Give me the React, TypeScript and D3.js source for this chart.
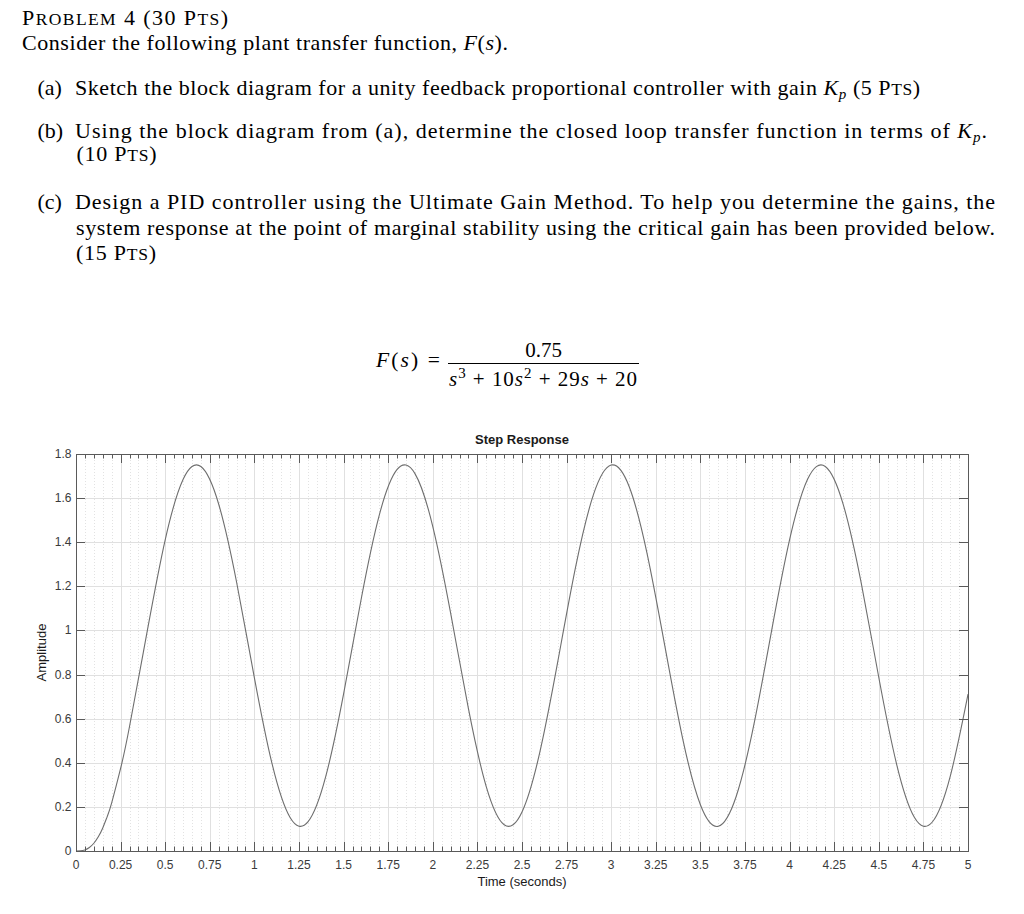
import React from 'react';
import * as d3 from 'd3';

// Step response samples
const TIME = [
  0, 0.025, 0.05, 0.075, 0.1, 0.125, 0.15, 0.175, 0.2, 0.25, 0.3,
  0.4, 0.5, 0.6, 0.7, 0.8, 0.9, 1.0, 1.1, 1.2, 1.3, 1.4, 1.5, 1.6, 1.7, 1.8, 1.9,
  2.0, 2.1, 2.2, 2.3, 2.4, 2.5, 2.6, 2.7, 2.8, 2.9, 3.0, 3.1, 3.2, 3.3, 3.4, 3.5,
  3.6, 3.7, 3.8, 3.9, 4.0, 4.1, 4.2, 4.3, 4.4, 4.5, 4.6, 4.7, 4.8, 4.9, 5.0,
];
const AMPLITUDE = [
  0, 0.0007, 0.005, 0.0158, 0.0351, 0.0644, 0.1046, 0.1559, 0.2183, 0.3742, 0.5645,
  1.0002, 1.411, 1.6841, 1.7433, 1.5723, 1.2197, 0.7854, 0.3923, 0.1517, 0.1317, 0.3379,
  0.7121, 1.1482, 1.5229, 1.73, 1.711, 1.4712, 1.0785, 0.6441, 0.2909, 0.1189, 0.1768,
  0.4482, 0.8562, 1.2855, 1.6144, 1.7499, 1.6536, 1.3528, 0.9326, 0.5119, 0.2099, 0.112,
  0.246, 0.5738, 1.0028, 1.4114, 1.6841, 1.7436, 1.5731, 1.2209, 0.7866, 0.3932, 0.152,
  0.1314, 0.3371, 0.7109,
];

const X_TICKS = [0, 0.25, 0.5, 0.75, 1, 1.25, 1.5, 1.75, 2, 2.25, 2.5, 2.75, 3, 3.25, 3.5, 3.75, 4, 4.25, 4.5, 4.75, 5];
const X_TICK_LABELS = ['0', '0.25', '0.5', '0.75', '1', '1.25', '1.5', '1.75', '2', '2.25', '2.5', '2.75', '3', '3.25', '3.5', '3.75', '4', '4.25', '4.5', '4.75', '5'];
const Y_TICKS = [0, 0.2, 0.4, 0.6, 0.8, 1, 1.2, 1.4, 1.6, 1.8];
const Y_TICK_LABELS = ['0', '0.2', '0.4', '0.6', '0.8', '1', '1.2', '1.4', '1.6', '1.8'];

const CHART_TITLE = 'Step Response';
const X_LABEL = 'Time (seconds)';
const Y_LABEL = 'Amplitude';

const serif = '"Liberation Serif", "Times New Roman", serif';
const sans = '"Liberation Sans", Arial, Helvetica, sans-serif';

export default function App() {
  const L = 76, R = 968, T = 454, B = 851;
  const x = d3.scaleLinear().domain([0, 5]).range([L, R]);
  const y = d3.scaleLinear().domain([0, 1.8]).range([B, T]);
  const px = (v: number) => Math.round(x(v)) + 0.5;
  const py = (v: number) => Math.round(y(v)) + 0.5;

  const pts: [number, number][] = TIME.map((t, i) => [t, AMPLITUDE[i]]);
  const line = d3.line<[number, number]>()
    .x(d => x(d[0]))
    .y(d => y(d[1]))
    .curve(d3.curveNatural);

  const minor = x.ticks(100).filter(v => !X_TICKS.some(m => Math.abs(m - v) < 1e-6));

  const fs = 22;
  const sc = 17.5;
  const it = { fontStyle: 'italic' as const };

  return (
    <div style={{ position: 'absolute', left: 0, top: 0 }}>
      <svg width={1024} height={914} style={{ display: 'block', background: '#fff' }}>
        <g fontFamily={serif} fontSize={fs} fill="#000">
          <text x={22} y={25} textLength={206}>
            P<tspan fontSize={sc}>ROBLEM</tspan>{' 4 (30 P'}<tspan fontSize={sc}>TS</tspan>)
          </text>
          <text x={22} y={50} textLength={486}>
            {'Consider the following plant transfer function, '}<tspan {...it}>F</tspan>(<tspan {...it}>s</tspan>).
          </text>

          <text x={37.5} y={95}>(a)</text>
          <text x={75} y={95} textLength={845}>
            {'Sketch the block diagram for a unity feedback proportional controller with gain '}
            <tspan {...it}>K</tspan><tspan {...it} fontSize={15} dy={4}>p</tspan>
            <tspan dy={-4}>{' (5 P'}</tspan><tspan fontSize={sc}>TS</tspan>)
          </text>

          <text x={37.5} y={138}>(b)</text>
          <text x={75} y={138} textLength={912}>
            {'Using the block diagram from (a), determine the closed loop transfer function in terms of '}
            <tspan {...it}>K</tspan><tspan {...it} fontSize={15} dy={4}>p</tspan><tspan dy={-4}>.</tspan>
          </text>
          <text x={76.5} y={161} textLength={80}>
            {'(10 P'}<tspan fontSize={sc}>TS</tspan>)
          </text>

          <text x={37.5} y={209}>(c)</text>
          <text x={75} y={209} textLength={920}>
            Design a PID controller using the Ultimate Gain Method.  To help you determine the gains, the
          </text>
          <text x={76} y={235} textLength={919}>
            system response at the point of marginal stability using the critical gain has been provided below.
          </text>
          <text x={76} y={260} textLength={80}>
            {'(15 P'}<tspan fontSize={sc}>TS</tspan>)
          </text>

          {/* formula */}
          <text x={376} y={367} textLength={64} fontSize={21.5}>
            <tspan {...it}>F</tspan>(<tspan {...it}>s</tspan>{') ='}
          </text>
          <text x={543.7} y={357} textAnchor="middle" fontSize={21}>0.75</text>
          <line x1={448} x2={639} y1={363.5} y2={363.5} stroke="#000" strokeWidth={1} />
          <text x={449} y={386} textLength={188} fontSize={21}>
            <tspan {...it}>s</tspan><tspan fontSize={15} dy={-8}>3</tspan>
            <tspan dy={8}>{' + 10'}</tspan><tspan {...it}>s</tspan><tspan fontSize={15} dy={-8}>2</tspan>
            <tspan dy={8}>{' + 29'}</tspan><tspan {...it}>s</tspan>{' + 20'}
          </text>
        </g>

        {/* chart */}
        <g>
          {minor.map((v, i) => (
            <line key={'mg' + i} x1={px(v)} x2={px(v)} y1={T} y2={B} stroke="#e2e2e2" strokeWidth={1} strokeDasharray="1,2" />
          ))}
          {X_TICKS.slice(1, -1).map((v, i) => (
            <line key={'xg' + i} x1={px(v)} x2={px(v)} y1={T} y2={B} stroke="#e0e0e0" strokeWidth={1} />
          ))}
          {Y_TICKS.slice(1, -1).map((v, i) => (
            <line key={'yg' + i} x1={L} x2={R} y1={py(v)} y2={py(v)} stroke="#e0e0e0" strokeWidth={1} />
          ))}

          <path d={line(pts) || ''} fill="none" stroke="#6e6e6e" strokeWidth={1.1} />

          <rect x={L + 0.5} y={T + 0.5} width={R - L} height={B - T} fill="none" stroke="#5a5a5a" strokeWidth={1} />

          {X_TICKS.map((v, i) => (
            <g key={'xt' + i}>
              <line x1={px(v)} x2={px(v)} y1={B} y2={B - 9} stroke="#5a5a5a" />
              <line x1={px(v)} x2={px(v)} y1={T} y2={T + 9} stroke="#5a5a5a" />
            </g>
          ))}
          {minor.map((v, i) => (
            <g key={'xm' + i}>
              <line x1={px(v)} x2={px(v)} y1={B} y2={B - 4.5} stroke="#5a5a5a" />
              <line x1={px(v)} x2={px(v)} y1={T} y2={T + 4.5} stroke="#5a5a5a" />
            </g>
          ))}
          {Y_TICKS.map((v, i) => (
            <g key={'yt' + i}>
              <line x1={L} x2={L + 9} y1={py(v)} y2={py(v)} stroke="#5a5a5a" />
              <line x1={R} x2={R - 9} y1={py(v)} y2={py(v)} stroke="#5a5a5a" />
            </g>
          ))}

          <g fontFamily={sans} fontSize={12} fill="#3a3a3a">
            {X_TICKS.map((v, i) => (
              <text key={'xl' + i} x={x(v)} y={869} textAnchor="middle">{X_TICK_LABELS[i]}</text>
            ))}
            {Y_TICKS.map((v, i) => (
              <text key={'yl' + i} x={71.5} y={y(v) + 4} textAnchor="end">{Y_TICK_LABELS[i]}</text>
            ))}
          </g>

          <text x={(L + R) / 2} y={443.5} textAnchor="middle" fontFamily={sans} fontSize={13} fontWeight="bold" fill="#1a1a1a">{CHART_TITLE}</text>
          <text x={(L + R) / 2} y={886} textAnchor="middle" fontFamily={sans} fontSize={13} fill="#1a1a1a">{X_LABEL}</text>
          <text transform={`translate(46,${(T + B) / 2}) rotate(-90)`} textAnchor="middle" fontFamily={sans} fontSize={13} fill="#1a1a1a">{Y_LABEL}</text>
        </g>
      </svg>
    </div>
  );
}
